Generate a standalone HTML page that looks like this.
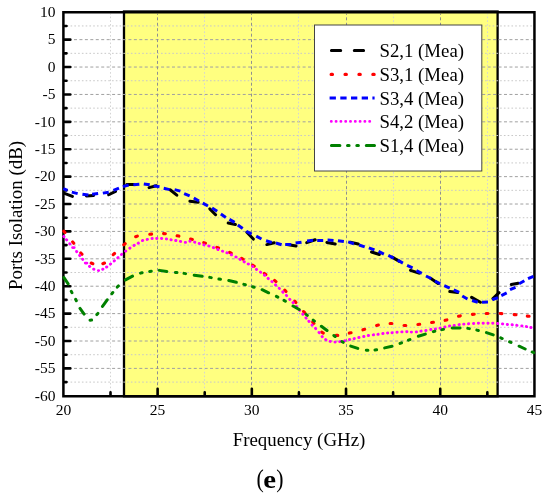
<!DOCTYPE html><html><head><meta charset="utf-8"><style>html,body{margin:0;padding:0;background:#fff;width:550px;height:500px;overflow:hidden}svg{display:block}text{font-family:"Liberation Serif",serif;fill:#000}</style></head><body>
<svg width="550" height="500" viewBox="0 0 550 500">
<rect x="124.0" y="12.25" width="373.6" height="383.55" fill="#FFFF80"/>
<rect x="124.0" y="11.5" width="373.6" height="384.8" fill="none" stroke="#000" stroke-width="2.3"/>
<line x1="64.9" y1="25.95" x2="533.0" y2="25.95" stroke="#c8c8c8" stroke-width="1" stroke-dasharray="1.6 2.168" stroke-dashoffset="1.84"/>
<line x1="64.9" y1="39.65" x2="533.0" y2="39.65" stroke="#a0a0a0" stroke-width="1" stroke-dasharray="3 2.443" stroke-dashoffset="1.79"/>
<line x1="64.9" y1="53.34" x2="533.0" y2="53.34" stroke="#c8c8c8" stroke-width="1" stroke-dasharray="1.6 2.168" stroke-dashoffset="1.84"/>
<line x1="64.9" y1="67.04" x2="533.0" y2="67.04" stroke="#a0a0a0" stroke-width="1" stroke-dasharray="3 2.443" stroke-dashoffset="1.79"/>
<line x1="64.9" y1="80.74" x2="533.0" y2="80.74" stroke="#c8c8c8" stroke-width="1" stroke-dasharray="1.6 2.168" stroke-dashoffset="1.84"/>
<line x1="64.9" y1="94.44" x2="533.0" y2="94.44" stroke="#a0a0a0" stroke-width="1" stroke-dasharray="3 2.443" stroke-dashoffset="1.79"/>
<line x1="64.9" y1="108.14" x2="533.0" y2="108.14" stroke="#c8c8c8" stroke-width="1" stroke-dasharray="1.6 2.168" stroke-dashoffset="1.84"/>
<line x1="64.9" y1="121.84" x2="533.0" y2="121.84" stroke="#a0a0a0" stroke-width="1" stroke-dasharray="3 2.443" stroke-dashoffset="1.79"/>
<line x1="64.9" y1="135.53" x2="533.0" y2="135.53" stroke="#c8c8c8" stroke-width="1" stroke-dasharray="1.6 2.168" stroke-dashoffset="1.84"/>
<line x1="64.9" y1="149.23" x2="533.0" y2="149.23" stroke="#a0a0a0" stroke-width="1" stroke-dasharray="3 2.443" stroke-dashoffset="1.79"/>
<line x1="64.9" y1="162.93" x2="533.0" y2="162.93" stroke="#c8c8c8" stroke-width="1" stroke-dasharray="1.6 2.168" stroke-dashoffset="1.84"/>
<line x1="64.9" y1="176.63" x2="533.0" y2="176.63" stroke="#a0a0a0" stroke-width="1" stroke-dasharray="3 2.443" stroke-dashoffset="1.79"/>
<line x1="64.9" y1="190.33" x2="533.0" y2="190.33" stroke="#c8c8c8" stroke-width="1" stroke-dasharray="1.6 2.168" stroke-dashoffset="1.84"/>
<line x1="64.9" y1="204.03" x2="533.0" y2="204.03" stroke="#a0a0a0" stroke-width="1" stroke-dasharray="3 2.443" stroke-dashoffset="1.79"/>
<line x1="64.9" y1="217.72" x2="533.0" y2="217.72" stroke="#c8c8c8" stroke-width="1" stroke-dasharray="1.6 2.168" stroke-dashoffset="1.84"/>
<line x1="64.9" y1="231.42" x2="533.0" y2="231.42" stroke="#a0a0a0" stroke-width="1" stroke-dasharray="3 2.443" stroke-dashoffset="1.79"/>
<line x1="64.9" y1="245.12" x2="533.0" y2="245.12" stroke="#c8c8c8" stroke-width="1" stroke-dasharray="1.6 2.168" stroke-dashoffset="1.84"/>
<line x1="64.9" y1="258.82" x2="533.0" y2="258.82" stroke="#a0a0a0" stroke-width="1" stroke-dasharray="3 2.443" stroke-dashoffset="1.79"/>
<line x1="64.9" y1="272.52" x2="533.0" y2="272.52" stroke="#c8c8c8" stroke-width="1" stroke-dasharray="1.6 2.168" stroke-dashoffset="1.84"/>
<line x1="64.9" y1="286.21" x2="533.0" y2="286.21" stroke="#a0a0a0" stroke-width="1" stroke-dasharray="3 2.443" stroke-dashoffset="1.79"/>
<line x1="64.9" y1="299.91" x2="533.0" y2="299.91" stroke="#c8c8c8" stroke-width="1" stroke-dasharray="1.6 2.168" stroke-dashoffset="1.84"/>
<line x1="64.9" y1="313.61" x2="533.0" y2="313.61" stroke="#a0a0a0" stroke-width="1" stroke-dasharray="3 2.443" stroke-dashoffset="1.79"/>
<line x1="64.9" y1="327.31" x2="533.0" y2="327.31" stroke="#c8c8c8" stroke-width="1" stroke-dasharray="1.6 2.168" stroke-dashoffset="1.84"/>
<line x1="64.9" y1="341.01" x2="533.0" y2="341.01" stroke="#a0a0a0" stroke-width="1" stroke-dasharray="3 2.443" stroke-dashoffset="1.79"/>
<line x1="64.9" y1="354.71" x2="533.0" y2="354.71" stroke="#c8c8c8" stroke-width="1" stroke-dasharray="1.6 2.168" stroke-dashoffset="1.84"/>
<line x1="64.9" y1="368.40" x2="533.0" y2="368.40" stroke="#a0a0a0" stroke-width="1" stroke-dasharray="3 2.443" stroke-dashoffset="1.79"/>
<line x1="64.9" y1="382.10" x2="533.0" y2="382.10" stroke="#c8c8c8" stroke-width="1" stroke-dasharray="1.6 2.168" stroke-dashoffset="1.84"/>
<line x1="110.50" y1="13.8" x2="110.50" y2="394.3" stroke="#d4d4d4" stroke-width="1" stroke-dasharray="1.6 2.1" stroke-dashoffset="0.9"/>
<line x1="157.50" y1="13.8" x2="157.50" y2="394.3" stroke="#909090" stroke-width="1" stroke-dasharray="3 2.447" stroke-dashoffset="1.93"/>
<line x1="204.50" y1="13.8" x2="204.50" y2="394.3" stroke="#d4d4d4" stroke-width="1" stroke-dasharray="1.6 2.1" stroke-dashoffset="0.9"/>
<line x1="251.50" y1="13.8" x2="251.50" y2="394.3" stroke="#909090" stroke-width="1" stroke-dasharray="3 2.447" stroke-dashoffset="1.93"/>
<line x1="298.50" y1="13.8" x2="298.50" y2="394.3" stroke="#d4d4d4" stroke-width="1" stroke-dasharray="1.6 2.1" stroke-dashoffset="0.9"/>
<line x1="346.50" y1="13.8" x2="346.50" y2="394.3" stroke="#909090" stroke-width="1" stroke-dasharray="3 2.447" stroke-dashoffset="1.93"/>
<line x1="393.50" y1="13.8" x2="393.50" y2="394.3" stroke="#d4d4d4" stroke-width="1" stroke-dasharray="1.6 2.1" stroke-dashoffset="0.9"/>
<line x1="440.50" y1="13.8" x2="440.50" y2="394.3" stroke="#909090" stroke-width="1" stroke-dasharray="3 2.447" stroke-dashoffset="1.93"/>
<line x1="487.50" y1="13.8" x2="487.50" y2="394.3" stroke="#d4d4d4" stroke-width="1" stroke-dasharray="1.6 2.1" stroke-dashoffset="0.9"/>
<path d="M63.4 12.25H534.45V396.2H63.4Z" fill="none" stroke="#000" stroke-width="2.5"/>
<path d="M64.7 25.95H66.5M64.7 39.65H70.3M64.7 53.34H66.5M64.7 67.04H70.3M64.7 80.74H66.5M64.7 94.44H70.3M64.7 108.14H66.5M64.7 121.84H70.3M64.7 135.53H66.5M64.7 149.23H70.3M64.7 162.93H66.5M64.7 176.63H70.3M64.7 190.33H66.5M64.7 204.03H70.3M64.7 217.72H66.5M64.7 231.42H70.3M64.7 245.12H66.5M64.7 258.82H70.3M64.7 272.52H66.5M64.7 286.21H70.3M64.7 299.91H66.5M64.7 313.61H70.3M64.7 327.31H66.5M64.7 341.01H70.3M64.7 354.71H66.5M64.7 368.40H70.3M64.7 382.10H66.5M110.51 394.9V392.4M157.61 394.9V388.8M204.72 394.9V392.4M251.82 394.9V388.8M298.93 394.9V392.4M346.03 394.9V388.8M393.14 394.9V392.4M440.24 394.9V388.8M487.35 394.9V392.4" fill="none" stroke="#000" stroke-width="2.6" stroke-linecap="round"/>
<path d="M64.51 193.37L72.39 196.43 M86.40 195.99L93.60 195.41 M108.67 194.74L115.53 191.46 M126.75 184.60L133.75 184.60 M149.06 187.67L156.34 185.73 M170.11 189.72L176.79 195.18 M189.89 201.24L198.21 202.16 M209.81 208.83L215.59 214.77 M228.18 223.05L235.42 224.45 M246.89 232.25L253.31 239.05 M266.86 244.59L274.24 242.81 M287.08 244.60L296.02 246.00 M306.73 242.67L315.17 239.73 M326.88 242.43L335.22 243.97 M350.37 242.27L358.23 243.93 M371.54 252.00L379.36 254.50 M392.13 257.15L399.37 261.35 M410.53 270.41L418.97 273.19 M430.57 278.24L438.13 283.46 M449.79 291.56L457.61 292.54 M471.63 297.34L480.37 302.26 M492.94 298.60L499.06 292.70 M511.28 284.56L518.22 283.24" fill="none" stroke="#000" stroke-width="3" stroke-linecap="round"/>
<path d="M63.83 231.20L64.97 232.60 M72.64 241.89L73.76 243.31 M80.80 252.93L82.00 254.27 M91.18 263.04L92.82 263.76 M102.87 263.75L104.53 263.05 M113.24 254.71L114.56 253.49 M123.79 244.75L125.21 243.65 M135.66 236.72L137.34 236.08 M149.80 234.29L151.60 234.11 M163.60 233.64L165.40 233.76 M177.12 235.72L178.88 236.08 M190.63 238.97L192.37 239.43 M203.74 242.62L205.46 243.18 M216.86 247.38L218.54 248.02 M229.58 252.33L231.22 253.07 M241.62 258.36L243.18 259.24 M252.75 265.20L254.25 266.20 M264.36 273.48L265.84 274.52 M274.61 280.43L275.99 281.57 M284.78 290.15L286.02 291.45 M294.71 301.12L295.89 302.48 M303.61 311.52L304.79 312.88 M312.70 322.13L313.90 323.47 M321.71 332.18L323.29 333.02 M336.00 335.39L337.80 335.41 M349.32 333.09L351.08 332.71 M362.93 329.84L364.67 329.36 M376.62 325.50L378.38 325.10 M390.10 323.49L391.90 323.51 M404.00 325.47L405.80 325.53 M417.91 324.50L419.69 324.30 M431.61 322.54L433.39 322.26 M445.12 320.31L446.88 319.89 M458.52 316.29L460.28 315.91 M472.40 314.38L474.20 314.22 M486.20 313.52L488.00 313.48 M500.10 313.56L501.90 313.64 M514.20 314.61L516.00 314.79 M527.31 316.10L529.09 316.30" fill="none" stroke="#FF0000" stroke-width="3.1" stroke-linecap="round"/>
<path d="M63.30 188.70L67.60 190.40 M71.84 192.16L77.66 193.64 M82.43 194.20L88.37 195.10 M92.17 194.26L98.13 193.54 M102.84 193.14L108.76 192.16 M113.42 190.43L118.98 188.17 M122.87 186.62L128.63 184.98 M133.36 184.82L139.34 184.28 M143.78 183.97L149.72 184.83 M153.58 185.87L159.52 186.73 M163.72 188.29L169.58 189.61 M174.60 189.65L180.40 191.15 M184.14 193.63L189.66 195.97 M193.80 198.00L199.00 201.00 M202.72 203.10L207.98 206.00 M212.09 208.03L217.21 211.17 M220.86 214.07L225.84 217.43 M229.45 219.41L234.65 222.39 M237.81 225.01L242.69 228.49 M246.36 231.22L251.64 234.08 M256.22 236.10L261.48 239.00 M266.04 240.75L271.76 242.55 M275.88 242.96L281.62 244.74 M285.25 244.40L291.25 244.40 M295.58 243.10L301.52 242.20 M307.07 240.95L313.03 240.35 M317.20 240.40L323.20 240.40 M327.56 239.98L333.54 240.42 M337.93 240.66L343.87 241.54 M348.14 241.89L353.86 243.71 M359.00 244.97L364.70 246.83 M368.83 247.87L374.47 249.93 M378.52 251.36L383.88 254.04 M388.32 255.46L393.68 258.14 M397.69 260.17L402.91 263.13 M407.11 265.33L412.59 267.77 M416.42 270.66L421.78 273.34 M425.96 275.98L431.34 278.62 M434.98 281.03L440.32 283.77 M444.25 285.59L449.75 288.01 M453.74 289.87L459.16 292.43 M462.27 295.92L467.43 298.98 M472.04 300.45L477.76 302.25 M482.00 302.20L488.00 302.00 M492.30 299.76L497.90 297.64 M501.32 295.59L506.68 292.91 M510.01 289.72L515.49 287.28 M519.13 283.71L524.37 280.79 M528.01 278.72L533.49 276.28" fill="none" stroke="#0000FF" stroke-width="3"/>
<path d="M63.81 236.38L63.99 236.62 M66.50 239.68L66.70 239.92 M69.80 243.69L70.00 243.91 M72.60 247.60L74.20 247.60 M76.60 251.48L76.80 251.72 M79.61 255.38L79.79 255.62 M82.61 259.18L82.79 259.42 M85.30 263.10L86.90 263.10 M89.48 266.31L89.72 266.49 M93.66 269.14L93.94 269.26 M98.35 270.60L98.65 270.60 M102.66 269.26L102.94 269.14 M106.58 267.08L106.82 266.92 M110.38 264.09L110.62 263.91 M114.19 261.00L114.41 260.80 M117.79 257.70L118.01 257.50 M121.48 254.50L121.72 254.30 M125.58 251.19L125.82 251.01 M129.78 248.18L130.02 248.02 M133.97 245.48L134.23 245.32 M138.17 243.27L138.43 243.13 M142.46 240.56L142.74 240.44 M147.15 239.43L147.45 239.37 M151.95 238.51L152.25 238.49 M156.65 238.50L156.95 238.50 M161.50 238.44L161.80 238.46 M166.35 238.88L166.65 238.92 M170.95 239.77L171.25 239.83 M175.65 240.47L175.95 240.53 M180.35 241.37L180.65 241.43 M185.25 242.40L185.55 242.40 M189.85 241.30L190.15 241.30 M194.55 242.17L194.85 242.23 M199.16 243.46L199.44 243.54 M203.85 244.86L204.15 244.94 M208.76 245.96L209.04 246.04 M213.36 247.55L213.64 247.65 M217.76 249.44L218.04 249.56 M222.46 251.15L222.74 251.25 M226.86 252.74L227.14 252.86 M231.26 254.74L231.54 254.86 M235.87 256.93L236.13 257.07 M239.97 259.32L240.23 259.48 M244.07 261.73L244.33 261.87 M248.17 263.93L248.43 264.07 M252.47 266.42L252.73 266.58 M256.38 269.31L256.62 269.49 M260.48 272.11L260.72 272.29 M264.48 275.10L264.72 275.30 M268.09 278.40L268.31 278.60 M271.89 281.60L272.11 281.80 M275.49 284.90L275.71 285.10 M279.19 288.30L279.41 288.50 M282.79 291.89L283.01 292.11 M286.40 295.39L286.60 295.61 M289.70 299.29L289.90 299.51 M293.00 302.49L293.20 302.71 M296.30 306.29L296.50 306.51 M299.50 310.18L299.70 310.42 M302.70 314.08L302.90 314.32 M305.90 317.89L306.10 318.11 M308.90 321.19L309.10 321.41 M312.00 324.99L312.20 325.21 M315.50 328.39L315.70 328.61 M319.01 332.48L319.19 332.72 M322.10 336.49L322.30 336.71 M325.67 339.62L325.93 339.78 M330.05 341.36L330.35 341.44 M334.95 342.10L335.25 342.10 M339.65 341.62L339.95 341.58 M344.55 340.83L344.85 340.77 M349.45 339.53L349.75 339.47 M354.05 338.63L354.35 338.57 M358.75 337.53L359.05 337.47 M363.65 336.53L363.95 336.47 M368.25 335.53L368.55 335.47 M373.25 334.82L373.55 334.78 M377.85 334.32L378.15 334.28 M382.75 333.52L383.05 333.48 M387.45 333.01L387.75 332.99 M391.95 332.71L392.25 332.69 M396.85 332.21L397.15 332.19 M401.75 331.91L402.05 331.89 M406.65 331.70L406.95 331.70 M411.25 332.10L411.55 332.10 M416.25 331.92L416.55 331.88 M420.85 331.12L421.15 331.08 M425.75 330.52L426.05 330.48 M430.65 329.52L430.95 329.48 M435.25 328.92L435.55 328.88 M439.95 328.13L440.25 328.07 M444.75 327.03L445.05 326.97 M449.45 325.93L449.75 325.87 M454.05 325.42L454.35 325.38 M458.95 324.62L459.25 324.58 M463.65 324.11L463.95 324.09 M468.45 323.81L468.75 323.79 M473.45 323.51L473.75 323.49 M478.25 323.30L478.55 323.30 M483.05 323.20L483.35 323.20 M487.85 323.30L488.15 323.30 M492.65 323.20L492.95 323.20 M497.55 323.49L497.85 323.51 M502.45 323.88L502.75 323.92 M507.25 324.49L507.55 324.51 M512.05 324.79L512.35 324.81 M516.75 325.28L517.05 325.32 M521.75 325.88L522.05 325.92 M526.35 326.57L526.65 326.63 M530.75 327.47L531.05 327.53" fill="none" stroke="#FF00FF" stroke-width="2.9" stroke-linecap="round"/>
<path d="M63.96 277.60L68.14 283.90 M80.00 308.38L84.10 314.12 M102.49 306.42L107.21 299.78 M125.46 279.94L132.54 276.16 M159.39 270.37L166.81 271.43 M194.19 275.17L202.21 276.33 M228.77 280.57L236.33 282.33 M262.09 289.71L268.61 292.79 M293.04 306.00L299.16 309.50 M321.36 326.22L327.04 330.48 M350.74 346.08L357.76 348.42 M384.68 347.86L392.02 346.34 M418.35 336.25L425.35 334.15 M452.10 328.08L460.10 327.92 M486.44 332.66L493.26 334.84 M519.09 346.20L525.21 349.00" fill="none" stroke="#008000" stroke-width="3" stroke-linecap="round"/>
<path d="M71.26 291.28L71.94 292.72 M75.64 299.28L76.36 300.72 M90.00 320.17L91.60 320.03 M96.88 314.60L97.92 313.40 M111.80 293.72L112.80 292.48 M117.25 287.08L118.35 285.92 M140.52 273.10L142.08 272.70 M149.71 271.43L151.29 271.17 M175.41 272.41L176.99 272.59 M184.01 273.38L185.59 273.62 M209.71 277.37L211.29 277.63 M218.91 279.07L220.49 279.33 M243.83 284.39L245.37 284.81 M252.63 286.78L254.17 287.22 M276.38 296.44L277.82 297.16 M284.01 300.40L285.39 301.20 M306.07 314.41L307.33 315.39 M313.17 320.11L314.43 321.09 M333.86 335.52L335.14 336.48 M341.83 341.47L343.17 342.33 M366.30 350.25L367.90 350.35 M375.01 350.01L376.59 349.79 M400.05 343.39L401.55 342.81 M408.46 340.19L409.94 339.61 M433.33 331.61L434.87 331.19 M441.92 329.65L443.48 329.35 M467.81 328.38L469.39 328.62 M476.82 330.12L478.38 330.48 M500.77 337.88L502.23 338.52 M509.57 341.77L511.03 342.43 M532.16 351.99L533.64 352.61" fill="none" stroke="#008000" stroke-width="3" stroke-linecap="round"/>
<text x="55.5" y="17.1" font-size="15.5" text-anchor="end">10</text>
<text x="55.5" y="44.4" font-size="15.5" text-anchor="end">5</text>
<text x="55.5" y="71.8" font-size="15.5" text-anchor="end">0</text>
<text x="55.5" y="99.2" font-size="15.5" text-anchor="end">-5</text>
<text x="55.5" y="126.6" font-size="15.5" text-anchor="end">-10</text>
<text x="55.5" y="154.0" font-size="15.5" text-anchor="end">-15</text>
<text x="55.5" y="181.4" font-size="15.5" text-anchor="end">-20</text>
<text x="55.5" y="208.8" font-size="15.5" text-anchor="end">-25</text>
<text x="55.5" y="236.2" font-size="15.5" text-anchor="end">-30</text>
<text x="55.5" y="263.6" font-size="15.5" text-anchor="end">-35</text>
<text x="55.5" y="291.0" font-size="15.5" text-anchor="end">-40</text>
<text x="55.5" y="318.4" font-size="15.5" text-anchor="end">-45</text>
<text x="55.5" y="345.8" font-size="15.5" text-anchor="end">-50</text>
<text x="55.5" y="373.2" font-size="15.5" text-anchor="end">-55</text>
<text x="55.5" y="400.6" font-size="15.5" text-anchor="end">-60</text>
<text x="63.4" y="414.9" font-size="15.5" text-anchor="middle">20</text>
<text x="157.6" y="414.9" font-size="15.5" text-anchor="middle">25</text>
<text x="251.8" y="414.9" font-size="15.5" text-anchor="middle">30</text>
<text x="346.0" y="414.9" font-size="15.5" text-anchor="middle">35</text>
<text x="440.2" y="414.9" font-size="15.5" text-anchor="middle">40</text>
<text x="534.5" y="414.9" font-size="15.5" text-anchor="middle">45</text>
<text x="299" y="445.8" font-size="18.9" text-anchor="middle">Frequency (GHz)</text>
<text transform="translate(21.7 215.4) rotate(-90)" x="0" y="0" font-size="18.9" text-anchor="middle">Ports Isolation (dB)</text>
<rect x="314.5" y="25" width="167.3" height="146.0" fill="#fff" stroke="#444" stroke-width="1"/>
<line x1="331.4" y1="50.5" x2="375" y2="50.5" stroke="#000" stroke-width="3" stroke-linecap="round" stroke-dasharray="9.3 13.6"/>
<text x="379.5" y="57.3" font-size="18.8">S2,1 (Mea)</text>
<line x1="331.15" y1="74.4" x2="375" y2="74.4" stroke="#FF0000" stroke-width="3.2" stroke-linecap="round" stroke-dasharray="1.3 12.6"/>
<text x="379.5" y="81.2" font-size="18.8">S3,1 (Mea)</text>
<line x1="329.6" y1="98.0" x2="374.6" y2="98.0" stroke="#0000FF" stroke-width="3" stroke-linecap="butt" stroke-dasharray="6.3 4.4"/>
<text x="379.5" y="104.8" font-size="18.8">S3,4 (Mea)</text>
<line x1="331.25" y1="121.45" x2="370" y2="121.45" stroke="#FF00FF" stroke-width="2.8" stroke-linecap="round" stroke-dasharray="0.1 4.7"/>
<text x="379.5" y="128.2" font-size="18.8">S4,2 (Mea)</text>
<line x1="331.4" y1="145.5" x2="374.5" y2="145.5" stroke="#008000" stroke-width="3" stroke-linecap="round" stroke-dasharray="8.5 7.6 1.6 7.7 1.6 7.9"/>
<text x="379.5" y="152.3" font-size="18.8">S1,4 (Mea)</text>
<text transform="translate(256.5 487.3) scale(0.84 1)" font-size="26">(</text>
<text transform="translate(276.3 487.3) scale(0.84 1)" font-size="26">)</text>
<text transform="translate(263.2 487.9) scale(1.17 1)" font-size="24.6" font-weight="bold">e</text>
</svg></body></html>
